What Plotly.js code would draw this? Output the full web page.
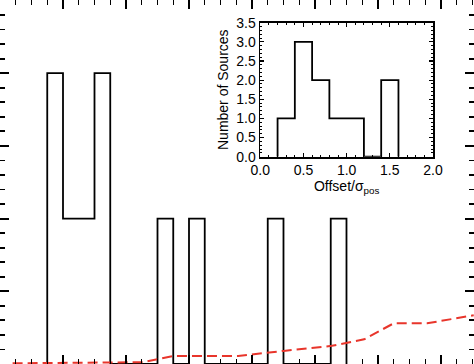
<!DOCTYPE html>
<html>
<head>
<meta charset="utf-8">
<script src="https://cdn.plot.ly/plotly-3.0.1.min.js"></script>
<style>html,body{margin:0;padding:0;background:#fff;}#chart{width:474px;height:364px;}</style>
</head>
<body>
<div id="chart"></div>
<script>
// ---- Main histogram (bin starts, counts) ----
const mainBinWidth = 0.25;
const mainBinStart = [0.75, 1.0, 1.25, 1.5, 2.5, 3.0, 4.25, 5.25];
const mainCounts   = [4, 2, 2, 4, 2, 2, 2, 2];

// ---- Main dashed red curve ----
const curveX = [0.2, 2.27, 2.75, 3.78, 4.5, 5.27, 5.78, 6.25, 6.78, 7.52];
const curveY = [0.01, 0.025, 0.11, 0.11, 0.18, 0.25, 0.34, 0.56, 0.56, 0.67];

// ---- Inset histogram ----
const insetBinWidth = 0.2;
const insetBinStart = [0.2, 0.4, 0.6, 0.8, 1.0, 1.2, 1.4];
const insetCounts   = [1, 3, 2, 1, 1, 0, 2];
const insetXTicks = [0.0, 0.5, 1.0, 1.5, 2.0];
const insetYTicks = [0.0, 0.5, 1.0, 1.5, 2.0, 2.5, 3.0, 3.5];

function stepOutline(starts, counts, w) {
  const xs = [], ys = [];
  let cx = null;
  for (let i = 0; i < starts.length; i++) {
    const s = starts[i], e = s + w, c = counts[i];
    if (cx === null) { xs.push(s); ys.push(0); }
    else if (Math.abs(s - cx) > 1e-9) { xs.push(cx, s); ys.push(0, 0); }
    xs.push(s, e); ys.push(c, c);
    cx = e;
  }
  xs.push(cx); ys.push(0);
  return {xs, ys};
}

const mainStep = stepOutline(mainBinStart, mainCounts, mainBinWidth);
const insetStep = stepOutline(insetBinStart, insetCounts, insetBinWidth);

const font = {family: '"Liberation Sans", Arial, Helvetica, sans-serif', color: '#000', size: 14};

const traces = [
  {x: mainStep.xs, y: mainStep.ys, type: 'scatter', mode: 'lines',
   line: {color: '#000', width: 1.8, shape: 'linear'}, xaxis: 'x', yaxis: 'y', hoverinfo: 'skip'},
  {x: curveX, y: curveY, type: 'scatter', mode: 'lines',
   line: {color: '#e8352b', width: 2, dash: '10px,5px'}, xaxis: 'x', yaxis: 'y', hoverinfo: 'skip'},
  {x: insetStep.xs, y: insetStep.ys, type: 'scatter', mode: 'lines',
   line: {color: '#000', width: 1.8}, xaxis: 'x2', yaxis: 'y2', hoverinfo: 'skip'}
];

const layout = {
  width: 474, height: 364,
  margin: {l: 0, r: 0, t: 0, b: 0, pad: 0},
  paper_bgcolor: '#fff', plot_bgcolor: 'rgba(0,0,0,0)',
  showlegend: false, font: font,
  xaxis: {
    domain: [0, 1], range: [0, 7.524], showgrid: false, zeroline: false,
    showline: false, showticklabels: false, ticks: 'inside', tick0: 0, dtick: 1,
    ticklen: 9, tickwidth: 1.6, tickcolor: '#000', mirror: 'ticks',
    minor: {ticks: 'inside', dtick: 0.25, tick0: 0, ticklen: 5, tickwidth: 1.4, tickcolor: '#000', showgrid: false}
  },
  yaxis: {
    domain: [0, 1], range: [0, 5.007], showgrid: false, zeroline: false,
    showline: false, showticklabels: false, ticks: 'inside', tick0: 0, dtick: 1,
    ticklen: 9, tickwidth: 1.8, tickcolor: '#000', mirror: 'ticks',
    minor: {ticks: 'inside', dtick: 0.2, tick0: 0, ticklen: 5, tickwidth: 1.8, tickcolor: '#000', showgrid: false}
  },
  xaxis2: {
    domain: [260.3/474, 433/474], anchor: 'y2', range: [0, 2], showgrid: false, zeroline: false,
    showline: true, linecolor: '#000', linewidth: 1.8, mirror: 'ticks',
    ticks: 'inside', tickvals: insetXTicks, ticktext: insetXTicks.map(v => v.toFixed(1)),
    ticklen: 4, tickwidth: 1.2, tickcolor: '#000',
    minor: {ticks: 'inside', dtick: 0.1, tick0: 0, ticklen: 2, tickwidth: 1, tickcolor: '#000', showgrid: false},
    tickfont: {size: 14}, 
    title: {text: 'Offset/σ<sub>pos</sub>', font: {size: 14}, standoff: 2}
  },
  yaxis2: {
    domain: [1 - 156.7/364, 1 - 22.7/364], anchor: 'x2', range: [0, 3.5], showgrid: false, zeroline: false,
    showline: true, linecolor: '#000', linewidth: 1.8, mirror: 'ticks',
    ticks: 'inside', tickvals: insetYTicks, ticktext: insetYTicks.map(v => v.toFixed(1)),
    ticklen: 4, tickwidth: 1.2, tickcolor: '#000',
    minor: {ticks: 'inside', dtick: 0.1, tick0: 0, ticklen: 2, tickwidth: 1, tickcolor: '#000', showgrid: false},
    tickfont: {size: 14},
    title: {text: 'Number of Sources', font: {size: 14}, standoff: 4}
  }
};

Plotly.newPlot('chart', traces, layout, {staticPlot: true, displayModeBar: false});
</script>
</body>
</html>
